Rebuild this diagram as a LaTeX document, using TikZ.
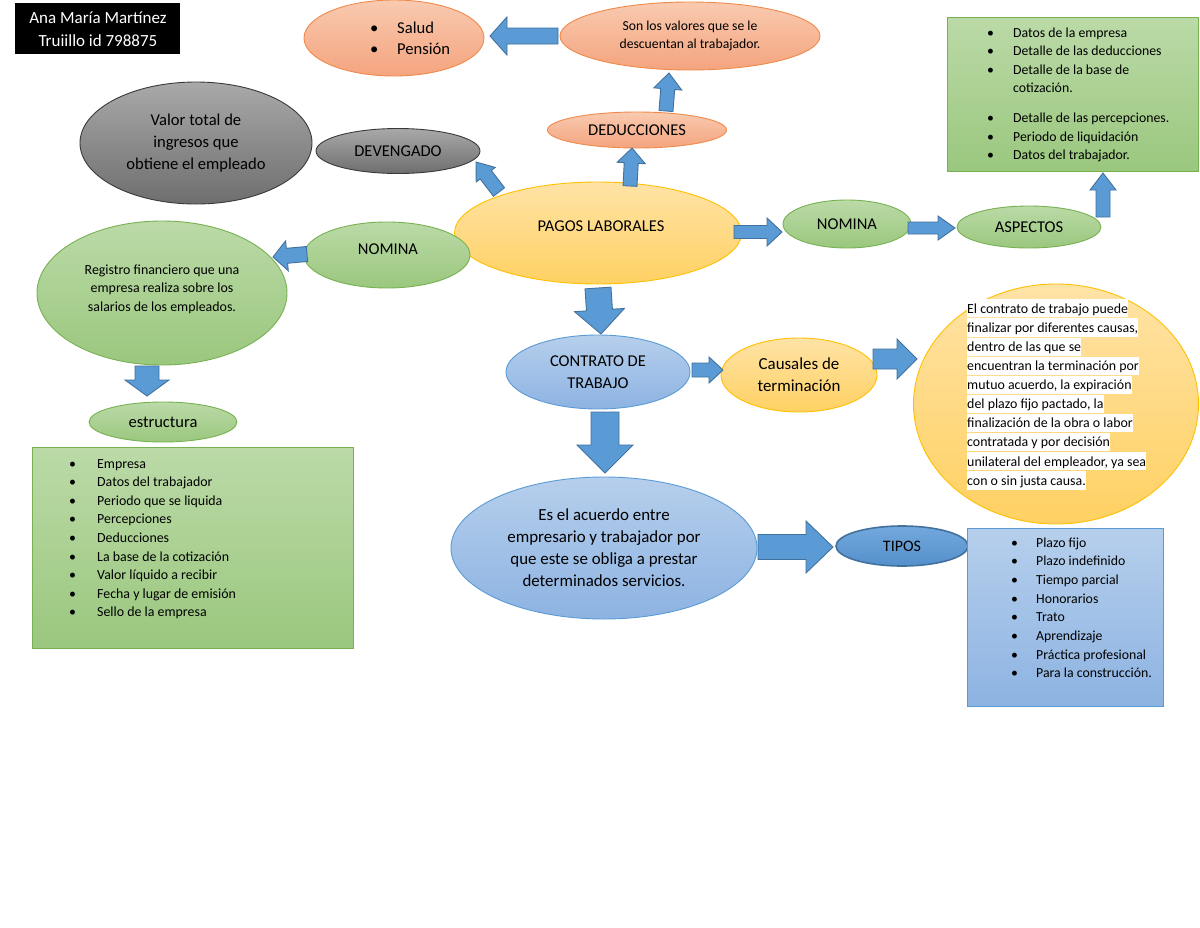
\documentclass[tikz,border=0pt]{standalone}
\usepackage{fontspec}
\setmainfont{Carlito}
\usetikzlibrary{shapes.geometric,calc}
\definecolor{grT}{HTML}{BBDAA7}
\definecolor{grD}{HTML}{9AC77E}
\definecolor{grB}{HTML}{78B152}
\definecolor{orT}{HTML}{F9CAB0}
\definecolor{orD}{HTML}{F4A47E}
\definecolor{orB}{HTML}{F08A4B}
\definecolor{yeT}{HTML}{FFE3A6}
\definecolor{yeD}{HTML}{FFD163}
\definecolor{yeB}{HTML}{FFC000}
\definecolor{blT}{HTML}{B6CFEC}
\definecolor{blD}{HTML}{8DB3E2}
\definecolor{blB}{HTML}{5B9BD5}
\definecolor{gyT}{HTML}{A9A9A9}
\definecolor{gyD}{HTML}{6E6E6E}
\definecolor{gyB}{HTML}{3A3A3A}
\definecolor{arF}{HTML}{5B9BD5}
\definecolor{arB}{HTML}{41719C}
\definecolor{tpT}{HTML}{72A8DC}
\definecolor{tpD}{HTML}{5590CC}
\setlength{\fboxsep}{0pt}
\newcommand{\fs}[2]{\fontsize{#1}{#2}\selectfont}
\newcommand{\bul}[1]{\makebox[#1][l]{\textbullet}}
\newcommand{\hlw}[1]{\colorbox{white}{\rule[-4.4pt]{0pt}{18.1pt}#1}}
\newcommand{\barrow}[5]{%
  \coordinate (ba) at #1;
  \coordinate (bb) at #2;
  \coordinate (bh) at ($(bb)!#5!(ba)$);
  \draw[blockarrow] ($(ba)!#3!90:(bb)$) -- ($(bh)!#3!90:(bb)$) -- ($(bh)!#4!90:(bb)$) -- (bb) -- ($(bh)!#4!-90:(bb)$) -- ($(bh)!#3!-90:(bb)$) -- ($(ba)!#3!-90:(bb)$) -- cycle;
}
\tikzset{
  ell/.style={ellipse, inner sep=1pt, line width=0.9pt, align=center, text=black},
  gre/.style={ell, draw=grB, top color=grT, bottom color=grD},
  ora/.style={ell, draw=orB, top color=orT, bottom color=orD},
  yel/.style={ell, draw=yeB, top color=yeT, bottom color=yeD},
  blu/.style={ell, draw=blB, top color=blT, bottom color=blD},
  gry/.style={ell, draw=gyB, top color=gyT, bottom color=gyD},
  listbox/.style={rectangle, anchor=north west, inner sep=0pt, line width=0.9pt},
  txt/.style={inner sep=0pt, anchor=base west},
  blockarrow/.style={fill=arF, draw=arB, line width=0.9pt, line join=miter},
  caps/.style={font=\fs{16.5}{20}},
}
\begin{document}
\begin{tikzpicture}[x=1pt,y=-1pt]
\useasboundingbox[fill=white] (0,0) rectangle (1200,927);

% name box
\node[listbox, fill=black, text=white, font=\fs{17}{23}, align=center, minimum width=165pt, minimum height=51pt] (name) at (15,3) {Ana María Martínez\\Truiillo id 798875};

% top orange
\node[ora, minimum width=180pt, minimum height=76pt] (salud) at (394,38) {};
\node[txt, font=\fs{16.6}{21}] (saludl) at (370,33) {\begin{tabular}[t]{@{}l@{}}\bul{27pt}Salud\\ \bul{27pt}Pensión\end{tabular}};
\node[ora, minimum width=260pt, minimum height=68pt, font=\fs{13.7}{17.5}] (son) at (690,36) {Son los valores que se le\\descuentan al trabajador.};
\node[ora, caps, minimum width=179pt, minimum height=36pt] (ded) at (637,130) {DEDUCCIONES};

% gray
\node[gry, minimum width=232pt, minimum height=122pt, font=\fs{16.6}{22}] (valor) at (196,143) {Valor total de\\ingresos que\\obtiene el empleado};
\node[gry, caps, minimum width=164pt, minimum height=45pt] (dev) at (398,151) {DEVENGADO};

% center
\node[yel, minimum width=287pt, minimum height=102pt] (pagos) at (598,233) {};
\node[caps] (pagost) at (601,226) {PAGOS LABORALES};

% left nomina
\node[gre, minimum width=166pt, minimum height=66pt] (nomL) at (387,255) {};
\node[caps] (nomLt) at (388,249) {NOMINA};
\node[gre, minimum width=250pt, minimum height=144pt] (reg) at (162,293) {};
\node[font=\fs{13.9}{18.5}, align=center] (regt) at (162,289) {Registro financiero que una\\empresa realiza sobre los\\salarios de los empleados.};
\node[gre, minimum width=148pt, minimum height=40pt, font=\fs{16.5}{19}] (est) at (163,422) {estructura};
\node[listbox, draw=grB, top color=grT, bottom color=grD, minimum width=321pt, minimum height=201pt] (estl) at (32,447) {};
\node[txt, font=\fs{13.9}{18.6}] (estlt) at (69,468) {\begin{tabular}[t]{@{}l@{}}
\bul{28pt}Empresa\\
\bul{28pt}Datos del trabajador\\
\bul{28pt}Periodo que se liquida\\
\bul{28pt}Percepciones\\
\bul{28pt}Deducciones\\
\bul{28pt}La base de la cotización\\
\bul{28pt}Valor líquido a recibir\\
\bul{28pt}Fecha y lugar de emisión\\
\bul{28pt}Sello de la empresa
\end{tabular}};

% right nomina
\node[gre, caps, minimum width=128pt, minimum height=48pt] (nomR) at (847,224) {NOMINA};
\node[gre, caps, minimum width=144pt, minimum height=42pt] (asp) at (1029,227) {ASPECTOS};
\node[listbox, draw=grB, top color=grT, bottom color=grD, minimum width=251pt, minimum height=154pt] (aspl) at (947,17) {};
\node[txt, font=\fs{13.8}{18.5}] (asplt) at (987,37) {\begin{tabular}[t]{@{}l@{}}
\bul{26pt}Datos de la empresa\\
\bul{26pt}Detalle de las deducciones\\
\bul{26pt}Detalle de la base de\\
\hspace*{26pt}cotización.\\[11.5pt]
\bul{26pt}Detalle de las percepciones.\\
\bul{26pt}Periodo de liquidación\\
\bul{26pt}Datos del trabajador.
\end{tabular}};

% contrato
\node[blu, minimum width=184pt, minimum height=74pt, font=\fs{16.5}{22}] (cont) at (598,372) {CONTRATO DE\\TRABAJO};
\node[yel, minimum width=156pt, minimum height=74pt, font=\fs{16.9}{22}] (caus) at (799,375) {Causales de\\terminación};
\node[yel, minimum width=285pt, minimum height=240pt] (circ) at (1056,404) {};
\node[txt, font=\fs{13.9}{18.1}] (circt) at (967,313) {\begin{tabular}[t]{@{}l@{}}
\hlw{El contrato de trabajo puede}\\
\hlw{finalizar por diferentes causas,}\\
\hlw{dentro de las que se}\\
\hlw{encuentran la terminación por}\\
\hlw{mutuo acuerdo, la expiración}\\
\hlw{del plazo fijo pactado, la}\\
\hlw{finalización de la obra o labor}\\
\hlw{contratada y por decisión}\\
\hlw{unilateral del empleador, ya sea}\\
\hlw{con o sin justa causa.}
\end{tabular}};

\node[blu, minimum width=306pt, minimum height=142pt, font=\fs{16.9}{22}] (acu) at (604,548) {Es el acuerdo entre\\empresario y trabajador por\\que este se obliga a prestar\\determinados servicios.};
\node[ell, draw=arB, line width=1.6pt, top color=tpT, bottom color=tpD, minimum width=132pt, minimum height=40pt, font=\fs{16}{19}] (tipos) at (902,546) {TIPOS};
\node[listbox, draw=blB, top color=blT, bottom color=blD, minimum width=196pt, minimum height=178pt] (tipl) at (967,528) {};
\node[txt, font=\fs{13.8}{18.7}] (tiplt) at (1011,547) {\begin{tabular}[t]{@{}l@{}}
\bul{25pt}Plazo fijo\\
\bul{25pt}Plazo indefinido\\
\bul{25pt}Tiempo parcial\\
\bul{25pt}Honorarios\\
\bul{25pt}Trato\\
\bul{25pt}Aprendizaje\\
\bul{25pt}Práctica profesional\\
\bul{25pt}Para la construcción.
\end{tabular}};

% block arrows
\barrow{(558,36)}{(490,36)}{8pt}{19pt}{17pt}
\barrow{(666,111)}{(669,73)}{7pt}{14pt}{16pt}
\barrow{(630,186)}{(632,148)}{7pt}{14pt}{15pt}
\barrow{(499,192)}{(476,162)}{7pt}{12pt}{16pt}
\barrow{(307,254)}{(273,257)}{7.5pt}{15pt}{14pt}
\barrow{(147,366)}{(147,396)}{12pt}{22pt}{16pt}
\barrow{(598,288)}{(601,334)}{13pt}{25pt}{24pt}
\barrow{(692,370)}{(723,370)}{7pt}{13pt}{14pt}
\barrow{(873,359)}{(917,359)}{10pt}{20pt}{20pt}
\barrow{(605,412)}{(605,473)}{14pt}{28pt}{28pt}
\barrow{(758,547)}{(833,547)}{12.5pt}{26pt}{27pt}
\barrow{(734,232)}{(782,232)}{6.5pt}{14pt}{15pt}
\barrow{(908,228)}{(955,228)}{6pt}{12pt}{17pt}
\barrow{(1103,217)}{(1103,173)}{7pt}{13pt}{17pt}
\end{tikzpicture}
\end{document}
